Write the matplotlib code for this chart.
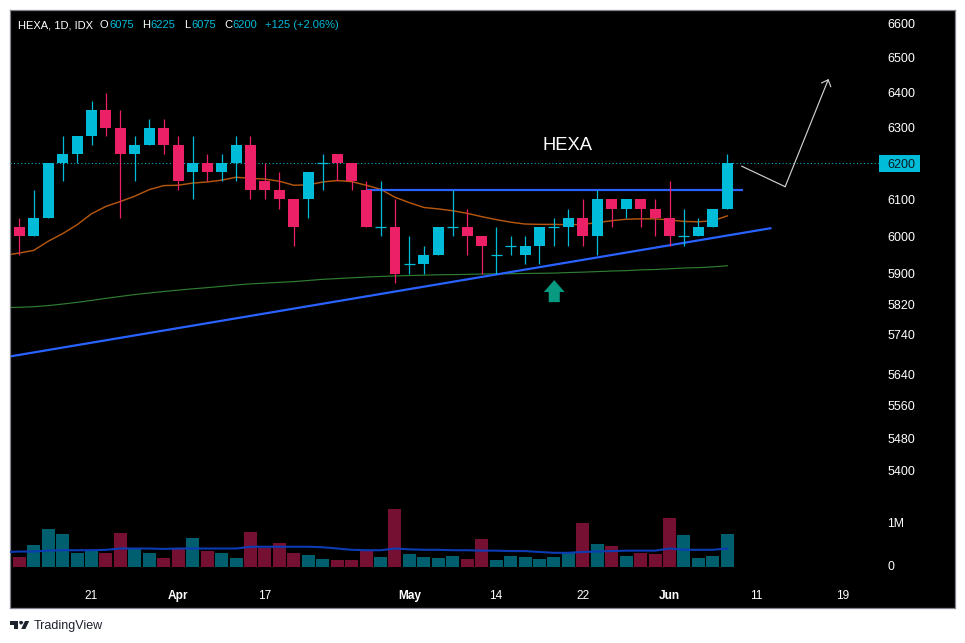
import matplotlib
matplotlib.use("Agg")
import matplotlib.pyplot as plt
from matplotlib.patches import Rectangle, Polygon, Circle
from matplotlib.ticker import NullLocator
from matplotlib.transforms import blended_transform_factory, ScaledTranslation

plt.rcParams['font.family'] = ['Liberation Sans', 'DejaVu Sans']

opens = [6025,6000,6050,6200,6225,6275,6350,6300,6225,6250,6300,6250,6175,6200,6175,6200,6250,6150,6125,6100,
         6100,6200,6225,6200,6125,6025,6025,5925,5925,5950,6025,6025,6000,5950,5975,5950,5975,6025,6025,6050,
         6000,6100,6075,6100,6075,6050,6000,6000,6025,6075]
highs = [6050,6125,6200,6275,6275,6375,6400,6350,6275,6325,6325,6275,6275,6225,6225,6275,6275,6200,6175,6100,
         6175,6225,6225,6200,6150,6150,6100,6000,5975,6025,6125,6075,6000,6025,6000,6000,6025,6050,6075,6100,
         6125,6100,6100,6100,6100,6150,6075,6050,6075,6225]
lows = [5950,6000,6050,6150,6200,6250,6275,6050,6150,6250,6225,6125,6100,6150,6150,6150,6100,6100,6075,5975,
        6050,6125,6150,6125,6025,6000,5875,5900,5900,5950,6000,5950,5900,5900,5950,5925,5925,5975,5975,5975,
        5950,6025,6050,6025,6000,5975,5975,6000,6025,6075]
closes = [6000,6050,6200,6225,6275,6350,6300,6225,6250,6300,6250,6150,6200,6175,6200,6250,6125,6125,6100,6025,
          6175,6200,6200,6150,6025,6025,5900,5925,5950,6025,6025,6000,5975,5950,5975,5975,6025,6025,6050,6000,
          6100,6075,6100,6075,6050,6000,6000,6025,6075,6200]
volumes = [.23,.51,.88,.77,.33,.40,.33,.79,.44,.33,.21,.42,.67,.37,.33,.21,.81,.44,.56,.33,.28,.19,.16,.16,.37,
           .23,1.35,.30,.23,.21,.26,.19,.65,.16,.26,.23,.19,.23,.33,1.02,.53,.49,.26,.33,.30,1.14,.74,.21,.26,.77]
vol_ma = [.36,.36,.38,.39,.39,.39,.40,.43,.43,.43,.42,.43,.43,.43,.43,.43,.47,.47,.47,.47,.47,.46,.43,.40,.39,
          .39,.43,.41,.40,.40,.39,.39,.38,.38,.37,.37,.35,.33,.33,.35,.36,.37,.38,.38,.38,.43,.40,.40,.40,.43]
ema = [5955,5962,5986.5,6007,6031,6061,6081,6094.5,6109,6127,6138,6139,6145,6148,6153,6161,6158,6156,6150,6139,
       6140,6148,6152,6149,6139,6128,6106,6091,6078,6074,6069,6062,6053,6045,6038,6033,6032,6032,6031,6032,
       6037,6042,6046,6047,6047,6044,6040,6039,6042,6055]
sma = [5811.6,5813,5816,5820,5824.5,5829.5,5835,5840,5845,5849,5853,5856.5,5860,5863,5866.5,5870,5873,5875,5877,5879,
       5882,5885,5887,5889,5891,5892.5,5894,5895,5896,5897,5897.5,5898,5899,5899.5,5900,5900.5,5901,5901.5,5903,5904,
       5905.5,5907,5908,5910,5911,5913,5915,5916,5918,5921]
resistance_x = [24, 50.06]
resistance_y = [6125, 6125]
trend_x = [-0.64, 52.05]
trend_y = [5684.7, 6022]
path_x = [50, 53, 56]
path_y = [6191.6, 6135, 6439]
price_ticks = [6600,6500,6400,6300,6200,6100,6000,5900,5820,5740,5640,5560,5480,5400]
date_pos = [5,11,17,27,33,39,45,51,57]
date_labels = ['21','Apr','17','May','14','22','Jun','11','19']
last_price = 6200

CYAN = '#00bcd9'; RED = '#ec2066'
VCYAN = '#005f6e'; VRED = '#761032'

fig = plt.figure(figsize=(9.65, 6.43), dpi=100, facecolor='white')
W, H = 965, 643
L, R, T, B = 10, 955, 10, 607.5
rect = [L/W, 1-B/H, (R-L)/W, (B-T)/H]
ax = fig.add_axes(rect, facecolor='black')
ax.set_yscale('log')
ax.set_xlim((L-19.3)/14.45, (R-19.3)/14.45)
ax.set_ylim(5078.6, 6641.6)
ax.yaxis.set_minor_locator(NullLocator())
ax.xaxis.set_minor_locator(NullLocator())
ax.yaxis.tick_right()
ax.set_yticks(price_ticks)
ax.set_yticklabels([str(p) for p in price_ticks], ha='left', fontsize=9.0, color='white')
ax.tick_params(axis='y', which='both', length=0, pad=-48.6)
ax.set_xticks(date_pos)
ax.set_xticklabels(date_labels, fontsize=8.6, color='white')
for lab in ax.get_xticklabels():
    if lab.get_text() in ('Apr', 'May', 'Jun'):
        lab.set_fontweight('bold')
ax.tick_params(axis='x', which='both', length=0, pad=-12.6)
for lab in ax.get_yticklabels():
    if lab.get_text() == str(last_price):
        lab.set_color('#0a1a20')
for s in ax.spines.values():
    s.set_color('#80838e'); s.set_linewidth(0.9)

# last price line and tag
n = len(closes)
ax.plot([ax.get_xlim()[0], (879-19.3)/14.45], [last_price]*2, color=CYAN, lw=0.75, ls=(0, (1, 2.4)), zorder=1.2)
tr = blended_transform_factory(ax.transAxes, ax.transData)
ax.add_patch(Rectangle(((879-L)/(R-L), 6176.5), 41/(R-L), 6223-6176.5, transform=tr, facecolor=CYAN,
                       edgecolor='none', zorder=1))

# moving averages and drawings
xs = list(range(n))
ax.plot([-0.64]+xs, [5951]+ema, color='#b4560e', lw=1.05, zorder=2)
ax.plot([-0.64]+xs, [5811]+sma, color='#2f7d32', lw=0.85, zorder=2)
ax.plot(resistance_x, resistance_y, color='#2962ff', lw=1.6, zorder=2.1, solid_capstyle='butt')
ax.plot(trend_x, trend_y, color='#2962ff', lw=1.6, zorder=2.1, solid_capstyle='butt')
ax.plot(path_x[:2], path_y[:2], color='#d0d0d0', lw=0.85, zorder=2.2)
ax.annotate('', xy=(path_x[2], path_y[2]), xytext=(path_x[1], path_y[1]),
            arrowprops=dict(arrowstyle='->,head_length=0.36,head_width=0.33', color='#d0d0d0', lw=0.85,
                            shrinkA=0, shrinkB=0, mutation_scale=11), zorder=2.2)

# candles
width = 11/14.45
for i, (o, h, l, c) in enumerate(zip(opens, highs, lows, closes)):
    col = RED if c < o else CYAN
    ax.vlines(i, l, h, color=col, lw=0.9, zorder=3)
    if o == c:
        ax.hlines(o, i-width/2, i+width/2, color=col, lw=0.9, zorder=3)
    else:
        ax.bar(i, abs(c-o), bottom=min(o, c), width=width, color=col, edgecolor='none', zorder=3.1)

# green arrow
ax.annotate('', xy=(37.02, 5883), xytext=(37.02, 5825),
            arrowprops=dict(arrowstyle='simple,head_length=8.6,head_width=15,tail_width=8', color='#089981',
                            shrinkA=0, shrinkB=0, mutation_scale=1, lw=0), zorder=4)

# annotation label
ax.text(37.97, 6250, 'HEXA', color='white', fontsize=13.2, ha='center', va='center', zorder=5)

# volume pane
vax = fig.add_axes(rect, facecolor='none', sharex=ax)
vax.set_ylim(-(B-567)/43, (567-T)/43)
vax.patch.set_visible(False)
for s in vax.spines.values():
    s.set_visible(False)
vax.yaxis.tick_right()
vax.set_yticks([0, 1])
vax.set_yticklabels(['0', '1M'], ha='left', fontsize=8.8, color='white')
vax.tick_params(axis='y', length=0, pad=-48.6)
vax.tick_params(axis='x', length=0, labelbottom=False)
nudge = ScaledTranslation(0, 1.2/72, fig.dpi_scale_trans)
for lab in vax.get_yticklabels():
    lab.set_transform(lab.get_transform() + nudge)
vcols = [VRED if c < o else VCYAN for o, c in zip(opens, closes)]
vax.bar(xs, volumes, width=13/14.45, color=vcols, edgecolor='none', zorder=2)
vax.plot([-0.64]+xs, [.35]+vol_ma, color='#0c3cb4', lw=1.5, zorder=3)

# header
def hdr(x, s, c):
    fig.text(x/W, 1-25/H, s, color=c, fontsize=8.0, ha='left', va='center', zorder=10)
hdr(18.3, 'HEXA, 1D, IDX', 'white')
hdr(100, 'O', 'white'); hdr(109, '6075', CYAN)
hdr(141.7, 'H', 'white'); hdr(150.7, '6225', CYAN)
hdr(184.5, 'L', 'white'); hdr(191, '6075', CYAN)
hdr(224, 'C', 'white'); hdr(232, '6200', CYAN)
hdr(265, '+125 (+2.06%)', CYAN)

# footer logo and name
LOGO = '#1e222d'
def px(points):
    return [(x/W, 1-y/H) for x, y in points]
fig.add_artist(Polygon(px([(10,621),(18,621),(18,629),(14,629),(14,624.5),(10,624.5)]), closed=True,
                       transform=fig.transFigure, facecolor=LOGO, edgecolor='none'))
fig.add_artist(Polygon(px([(19.4,621.2),(22,620.9),(23.4,622.5),(22,624.4),(20,624.4),(19.2,622.8)]), closed=True,
                       transform=fig.transFigure, facecolor=LOGO, edgecolor='none'))
fig.add_artist(Polygon(px([(25,621),(29.2,621),(25.4,629),(21.2,629)]), closed=True,
                       transform=fig.transFigure, facecolor=LOGO, edgecolor='none'))
fig.text(34/W, 1-626/H, 'TradingView', color=LOGO, fontsize=9.0, ha='left', va='center')

fig.savefig('out.png', dpi=100, facecolor='white')
